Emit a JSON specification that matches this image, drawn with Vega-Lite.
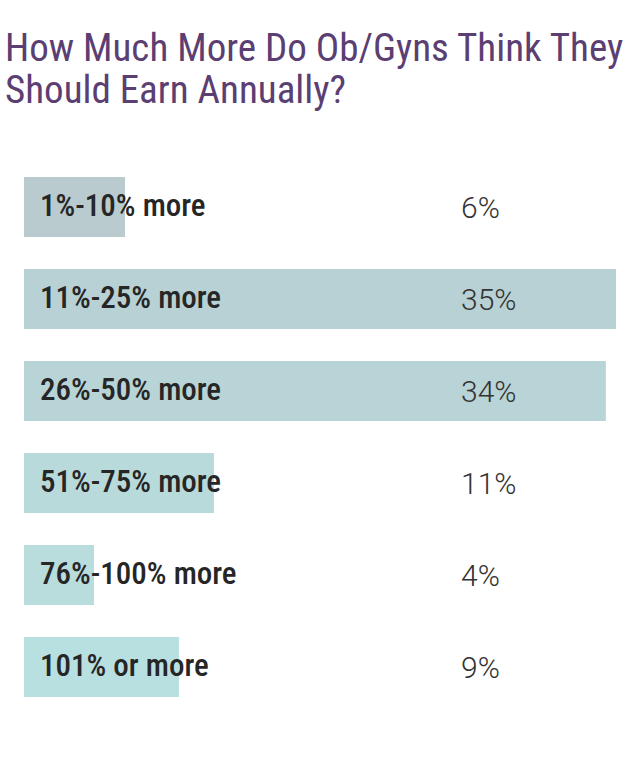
{
  "$schema": "https://vega.github.io/schema/vega-lite/v6.json",
  "width": 592,
  "height": 520,
  "autosize": {"type": "none"},
  "padding": {"left": 24, "top": 177, "right": 24, "bottom": 60},
  "background": "white",
  "title": {
    "text": ["How Much More Do Ob/Gyns Think They", "Should Earn Annually?"],
    "anchor": "start",
    "frame": "group",
    "dx": -19,
    "offset": 35,
    "baseline": "alphabetic",
    "font": "Roboto Condensed, Liberation Sans Narrow, DejaVu Sans Condensed, Roboto",
    "fontSize": 39,
    "fontWeight": "normal",
    "lineHeight": 42,
    "color": "#5b3e72"
  },
  "data": {
    "values": [
      {"range": "1%-10% more", "share": 0.0597},
      {"range": "11%-25% more", "share": 0.35},
      {"range": "26%-50% more", "share": 0.344},
      {"range": "51%-75% more", "share": 0.1123},
      {"range": "76%-100% more", "share": 0.0414},
      {"range": "101% or more", "share": 0.0916}
    ]
  },
  "encoding": {
    "y": {
      "field": "range",
      "type": "nominal",
      "sort": null,
      "axis": null,
      "scale": {"paddingInner": 0.3478, "paddingOuter": 0}
    }
  },
  "layer": [
    {
      "mark": {"type": "bar"},
      "encoding": {
        "x": {
          "field": "share",
          "type": "quantitative",
          "axis": null,
          "scale": {"domain": [0, 0.35], "nice": false}
        },
        "color": {
          "field": "range",
          "type": "nominal",
          "sort": null,
          "legend": null,
          "scale": {"range": ["#b9cbcf", "#b8d1d4", "#b9d4d6", "#b9dadb", "#b9dcdd", "#b9e0e1"]}
        }
      }
    },
    {
      "mark": {
        "type": "text",
        "align": "left",
        "baseline": "middle",
        "dx": 16,
        "dy": 0,
        "font": "Roboto Condensed, Liberation Sans Narrow, DejaVu Sans Condensed, Roboto",
        "fontSize": 31,
        "fontWeight": 500,
        "color": "#262626"
      },
      "encoding": {
        "x": {"datum": 0, "type": "quantitative"},
        "text": {"field": "range"}
      }
    },
    {
      "mark": {
        "type": "text",
        "align": "left",
        "baseline": "middle",
        "dy": 2,
        "font": "Roboto",
        "fontSize": 30,
        "fontWeight": 300,
        "color": "#333333"
      },
      "encoding": {
        "x": {"datum": 0.2584, "type": "quantitative"},
        "text": {"field": "share", "type": "quantitative", "format": ".0%"}
      }
    }
  ],
  "config": {
    "view": {"stroke": null}
  }
}
